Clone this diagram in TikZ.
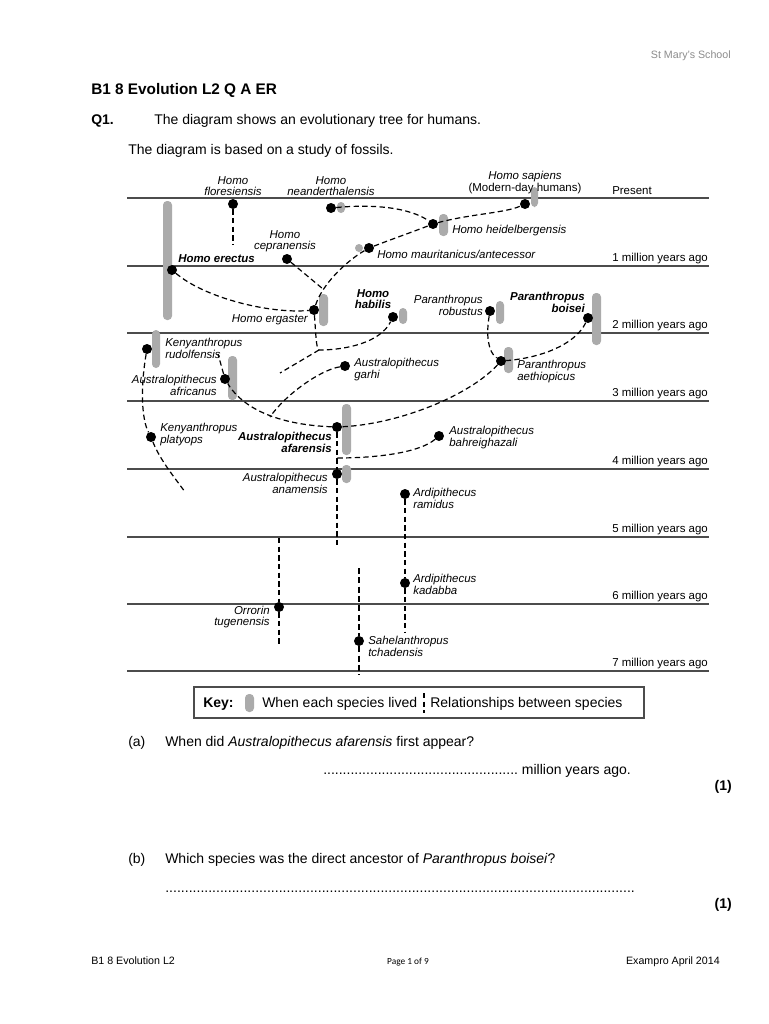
\documentclass[tikz,border=0pt]{standalone}
\usepackage{fontspec}
\setmainfont{Liberation Sans}
\newfontfamily\calfont{Carlito}
\usetikzlibrary{positioning}
\newcommand{\dotrun}[1]{\xleaders\hbox{.}\hskip #1\relax\null}
\tikzset{
x=0.75pt, y=-0.75pt, % one unit is one pixel of the page, y runs down
dot/.style={circle, fill=black, inner sep=0pt, minimum size=7.5pt}, % a species
span/.style={fill=black!33, rounded corners=3pt}, % when a species lived
rel/.style={dash pattern=on 4pt off 2.5pt, line width=0.9pt}, % relationship
sahline/.style={dash pattern=on 4.5pt off 2.5pt, line width=1.4pt},
era/.style={draw=black!70, line width=1pt}, % time lines
eralbl/.style={font=\fontsize{8.6}{9}\selectfont, inner sep=0pt, anchor=west},
lbl/.style={font=\fontsize{8.6}{8}\selectfont\itshape, inner sep=0pt}, % species names
blbl/.style={lbl, font=\fontsize{8.6}{8}\selectfont\itshape\bfseries},
body/.style={font=\fontsize{10.5}{12}\selectfont, inner sep=0pt, anchor=base west},
}

\begin{document}
\begin{tikzpicture}
\fill[white] (0,0) rectangle (768,1024);
\useasboundingbox (0,0) rectangle (768,1024);

\node[body, anchor=base east, font=\fontsize{8}{9}\selectfont, text=black!45] (school) at (731,59) {St Mary's School};
\node[body, font=\fontsize{11.5}{13}\selectfont\bfseries] (title) at (91,94) {B1 8 Evolution L2 Q A ER};
\node[body, font=\fontsize{10.5}{12}\selectfont\bfseries] (qone) at (91,124) {Q1.};
\node[body] (intro) at (154,124) {The diagram shows an evolutionary tree for humans.};
\node[body] (based) at (128,154) {The diagram is based on a study of fossils.};

\draw[era] (127,198) -- (709,198);
\draw[era] (127,266) -- (709,266);
\draw[era] (127,333) -- (709,333);
\draw[era] (127,401) -- (709,401);
\draw[era] (127,469) -- (709,469);
\draw[era] (127,537) -- (709,537);
\draw[era] (127,604) -- (709,604);
\draw[era] (127,671) -- (709,671);
\node[eralbl] (present) at (612,191) {Present};
\node[eralbl] (mya1) at (612,259) {1 million years ago};
\node[eralbl] (mya2) at (612,326) {2 million years ago};
\node[eralbl] (mya3) at (612,394) {3 million years ago};
\node[eralbl] (mya4) at (612,462) {4 million years ago};
\node[eralbl] (mya5) at (612,530) {5 million years ago};
\node[eralbl] (mya6) at (612,597) {6 million years ago};
\node[eralbl] (mya7) at (612,664) {7 million years ago};

\fill[span] (531,187) rectangle (538,207);
\fill[span] (337,202) rectangle (345,213);
\fill[span] (439,214) rectangle (448,236);
\fill[span] (355,244) rectangle (363,252);
\fill[span] (163,201) rectangle (172,320);
\fill[span] (319,294) rectangle (328,326);
\fill[span] (399,308) rectangle (407,324);
\fill[span] (496,301) rectangle (504,324);
\fill[span] (592,293) rectangle (601,345);
\fill[span] (152,330) rectangle (160,368);
\fill[span] (228,356) rectangle (237,400);
\fill[span] (504,347) rectangle (513,373);
\fill[span] (342,404) rectangle (351,455);
\fill[span] (342,465) rectangle (351,483);

\node[dot] (flores) at (233,204) {};
\node[dot] (neander) at (331,208) {};
\node[dot] (sapiens) at (525,204) {};
\node[dot] (heidel) at (433,224) {};
\node[dot] (maurit) at (369,248) {};
\node[dot] (cepran) at (287,259) {};
\node[dot] (erectus) at (172,270) {};
\node[dot] (ergaster) at (314,310) {};
\node[dot] (habilis) at (393,317) {};
\node[dot] (robustus) at (490,311) {};
\node[dot] (boisei) at (588,318) {};
\node[dot] (rudolf) at (147,349) {};
\node[dot] (africanus) at (225,379) {};
\node[dot] (garhi) at (345,366) {};
\node[dot] (aethiop) at (501,361) {};
\node[dot] (platyops) at (151,437) {};
\node[dot] (afarensis) at (337,427) {};
\node[dot] (bahr) at (439,436) {};
\node[dot] (anamensis) at (337,474) {};
\node[dot] (ramidus) at (405,494) {};
\node[dot] (kadabba) at (405,583) {};
\node[dot] (orrorin) at (279,607) {};
\node[dot] (sahel) at (359,641) {};

\coordinate (floresEnd) at (233,245);
\coordinate (cepJoin) at (323,289);
\coordinate (homoJoin) at (319,350);
\coordinate (homoEnd) at (280,373);
\coordinate (afrEnd) at (218,354);
\coordinate (garhiJoin) at (270,417);
\coordinate (bahrJoin) at (337,458);
\coordinate (anaEnd) at (337,547);
\coordinate (rudEnd) at (185,492);
\coordinate (ramEnd) at (405,632);
\coordinate (orrTop) at (279,538);
\coordinate (orrEnd) at (279,646);
\coordinate (sahTop) at (359,568);
\coordinate (sahEnd) at (359,675);

\draw[rel] (flores) -- (floresEnd);
\draw[rel] (neander) .. controls (385,203) and (415,211) .. (heidel);
\draw[rel] (heidel) .. controls (470,214) and (505,213) .. (sapiens);
\draw[rel] (maurit) .. controls (395,238) and (415,231) .. (heidel);
\draw[rel] (ergaster) .. controls (322,285) and (345,262) .. (maurit);
\draw[rel] (cepran) -- (cepJoin);
\draw[rel] (erectus) .. controls (205,298) and (270,314) .. (ergaster);
\draw[rel] (ergaster) .. controls (316,335) and (316,348) .. (homoJoin) .. controls (345,350) and (380,343) .. (habilis);
\draw[rel] (homoJoin) -- (homoEnd);
\draw[rel] (robustus) .. controls (486,335) and (488,352) .. (aethiop);
\draw[rel] (boisei) .. controls (575,345) and (540,358) .. (aethiop);
\draw[rel] (aethiop) .. controls (470,395) and (400,424) .. (afarensis);
\draw[rel] (afarensis) .. controls (285,425) and (245,412) .. (africanus);
\draw[rel] (africanus) -- (afrEnd);
\draw[rel] (garhi) .. controls (320,370) and (285,395) .. (garhiJoin);
\draw[rel] (afarensis) -- (anamensis);
\draw[rel] (bahr) .. controls (420,452) and (380,458) .. (bahrJoin);
\draw[rel] (anamensis) -- (anaEnd);
\draw[rel] (rudolf) .. controls (140,390) and (142,420) .. (platyops) .. controls (160,460) and (175,478) .. (rudEnd);
\draw[rel] (ramidus) -- (kadabba) -- (ramEnd);
\draw[rel] (orrTop) -- (orrorin) -- (orrEnd);
\draw[sahline] (sahTop) -- (sahel) -- (sahEnd);

\node[lbl, align=center] (sapiensL) at (525,183) {Homo sapiens\\\upshape(Modern-day humans)};
\node[lbl, align=center] (neanderL) at (331,186) {Homo\\neanderthalensis};
\node[lbl, align=center] (floresL) at (233,186) {Homo\\floresiensis};
\node[lbl, anchor=west] (heidelL) at (452,231) {Homo heidelbergensis};
\node[lbl, anchor=west] (mauritL) at (377,254) {Homo mauritanicus/antecessor};
\node[lbl, align=center] (cepranL) at (285,241) {Homo\\cepranensis};
\node[blbl, anchor=west] (erectusL) at (178,259) {Homo erectus};
\node[lbl, anchor=east] (ergasterL) at (308,320) {Homo ergaster};
\node[blbl, align=center] (habilisL) at (373,299) {Homo\\habilis};
\node[lbl, anchor=east, align=right] (robustusL) at (483,305) {Paranthropus\\robustus};
\node[blbl, anchor=east, align=right] (boiseiL) at (585,302) {Paranthropus\\boisei};
\node[lbl, anchor=west, align=left] (rudolfL) at (165,348) {Kenyanthropus\\rudolfensis};
\node[lbl, anchor=east, align=right] (africanusL) at (217,385) {Australopithecus\\africanus};
\node[lbl, anchor=west, align=left] (garhiL) at (354,370) {Australopithecus\\garhi};
\node[lbl, anchor=west, align=left] (aethiopL) at (517,372) {Paranthropus\\aethiopicus};
\node[lbl, anchor=west, align=left] (platyopsL) at (160,435) {Kenyanthropus\\platyops};
\node[blbl, anchor=east, align=right] (afarensisL) at (332,442) {Australopithecus\\afarensis};
\node[lbl, anchor=west, align=left] (bahrL) at (449,438) {Australopithecus\\bahreighazali};
\node[lbl, anchor=east, align=right] (anamensisL) at (328,483) {Australopithecus\\anamensis};
\node[lbl, anchor=west, align=left] (ramidusL) at (413,498) {Ardipithecus\\ramidus};
\node[lbl, anchor=west, align=left] (kadabbaL) at (413,584) {Ardipithecus\\kadabba};
\node[lbl, anchor=east, align=right] (orrorinL) at (270,617) {Orrorin\\tugenensis};
\node[lbl, anchor=west, align=left] (sahelL) at (368,646) {Sahelanthropus\\tchadensis};

\draw[black!70, line width=0.9pt] (194,687) rectangle (644,718);
\node[body, font=\fontsize{10.5}{12}\selectfont\bfseries] (keyK) at (203,707) {Key:};
\fill[span] (245,694) rectangle (254,712);
\node[body] (keySpan) at (262,707) {When each species lived};
\draw[rel] (424,693) -- (424,713);
\node[body] (keyRel) at (430,707) {Relationships between species};

\node[body] (pa) at (128,746) {(a)};
\node[body] (qa) at (165,746) {When did \textit{Australopithecus afarensis} first appear?};
\node[body] (ansa) at (323,774) {\dotrun{146pt} million years ago.};
\node[body, anchor=base east, font=\fontsize{10.5}{12}\selectfont\bfseries] (marka) at (732,790) {(1)};
\node[body] (pb) at (128,863) {(b)};
\node[body] (qb) at (165,863) {Which species was the direct ancestor of \textit{Paranthropus boisei}?};
\node[body] (ansb) at (165,892) {\dotrun{352pt}};
\node[body, anchor=base east, font=\fontsize{10.5}{12}\selectfont\bfseries] (markb) at (732,908) {(1)};

\node[body, font=\fontsize{8}{9}\selectfont] (footL) at (91,964) {B1 8 Evolution L2};
\node[body, anchor=base, font=\calfont\fontsize{7}{8}\selectfont] (footM) at (408,964) {Page 1 of 9};
\node[body, anchor=base east, font=\fontsize{8}{9}\selectfont] (footR) at (720,964) {Exampro April 2014};
\end{tikzpicture}
\end{document}
